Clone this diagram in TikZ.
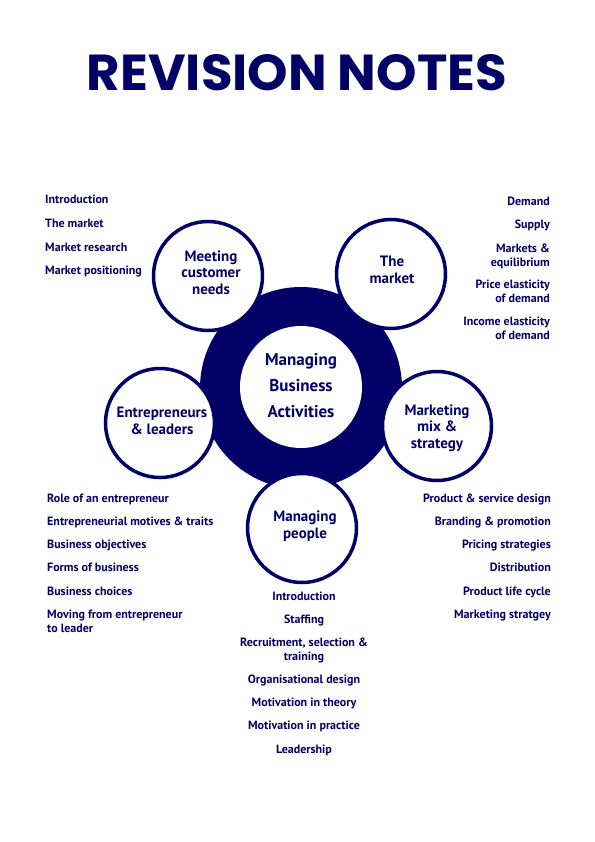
\documentclass[tikz,border=0pt]{standalone}
\usepackage{fontspec}
\setmainfont{PT Sans}
\newfontfamily\titlefont{Poppins}
\definecolor{navy}{RGB}{0,0,102}
\begin{document}
\begin{tikzpicture}[x=1pt,y=-1pt,
  bubble/.style={circle,draw=navy,fill=white,line width=3.5pt,minimum size=109pt,inner sep=0pt},
  bubtext/.style={text=navy,align=center,anchor=base,inner sep=0pt,font=\bfseries\fontsize{15}{16.5}\selectfont},
  lstL/.style={text=navy,align=left,anchor=base west,inner sep=0pt,font=\bfseries\fontsize{12}{14}\selectfont},
  lstR/.style={text=navy,align=right,anchor=base east,inner sep=0pt,font=\bfseries\fontsize{12}{14}\selectfont},
  lstC/.style={text=navy,align=center,anchor=base,inner sep=0pt,font=\bfseries\fontsize{12}{13.5}\selectfont}]
\useasboundingbox[fill=white] (0,0) rectangle (594,842);
% title
\node[anchor=base,inner sep=0pt,text=navy] (title) at (297,91)
  {\resizebox{420pt}{36pt}{\titlefont\bfseries REVISION NOTES}};
% hub
\node[circle,fill=navy,minimum size=202pt,inner sep=0pt] (ring) at (301,388) {};
\node[circle,fill=white,minimum size=122pt,inner sep=0pt] (hub) at (301,387) {};
\node[bubtext,font=\bfseries\fontsize{17}{26}\selectfont] (hubtext) at (301,417) {Managing\\Business\\Activities};
% bubbles
\node[bubble] (meet) at (208,276) {};
\node[bubble] (mkt) at (391,274) {};
\node[bubble] (ent) at (160,423) {};
\node[bubble] (mix) at (437,426) {};
\node[bubble] (ppl) at (302,528) {};
\node[bubtext] (meett) at (211,294) {Meeting\\customer\\needs};
\node[bubtext] (mktt) at (392,283) {The\\market};
\node[bubtext] (entt) at (162,434) {Entrepreneurs\\\& leaders};
\node[bubtext] (mixt) at (437,448) {Marketing\\mix \&\\strategy};
\node[bubtext] (pplt) at (305,538) {Managing\\people};
% top-left list
\node[lstL] (tl1) at (45,204) {Introduction};
\node[lstL] (tl2) at (45,227) {The market};
\node[lstL] (tl3) at (45,251) {Market research};
\node[lstL] (tl4) at (45,274) {Market positioning};
% top-right list
\node[lstR] (tr1) at (550,206) {Demand};
\node[lstR] (tr2) at (550,229) {Supply};
\node[lstR] (tr3) at (550,266) {Markets \&\\equilibrium};
\node[lstR] (tr4) at (550,302) {Price elasticity\\of demand};
\node[lstR] (tr5) at (550,339) {Income elasticity\\of demand};
% bottom-left list
\node[lstL] (bl1) at (47,502) {Role of an entrepreneur};
\node[lstL] (bl2) at (47,525) {Entrepreneurial motives \& traits};
\node[lstL] (bl3) at (47,548) {Business objectives};
\node[lstL] (bl4) at (47,571) {Forms of business};
\node[lstL] (bl5) at (47,595) {Business choices};
\node[lstL] (bl6) at (47,632) {Moving from entrepreneur\\to leader};
% bottom-right list
\node[lstR] (br1) at (551,502) {Product \& service design};
\node[lstR] (br2) at (551,525) {Branding \& promotion};
\node[lstR] (br3) at (551,548) {Pricing strategies};
\node[lstR] (br4) at (551,571) {Distribution};
\node[lstR] (br5) at (551,595) {Product life cycle};
\node[lstR] (br6) at (551,618) {Marketing stratgey};
% bottom-centre list
\node[lstC] (bc1) at (304,600) {Introduction};
\node[lstC] (bc2) at (304,623) {Staffing};
\node[lstC] (bc3) at (304,660) {Recruitment, selection \&\\training};
\node[lstC] (bc4) at (304,683) {Organisational design};
\node[lstC] (bc5) at (304,706) {Motivation in theory};
\node[lstC] (bc6) at (304,729) {Motivation in practice};
\node[lstC] (bc7) at (304,753) {Leadership};
\end{tikzpicture}
\end{document}
